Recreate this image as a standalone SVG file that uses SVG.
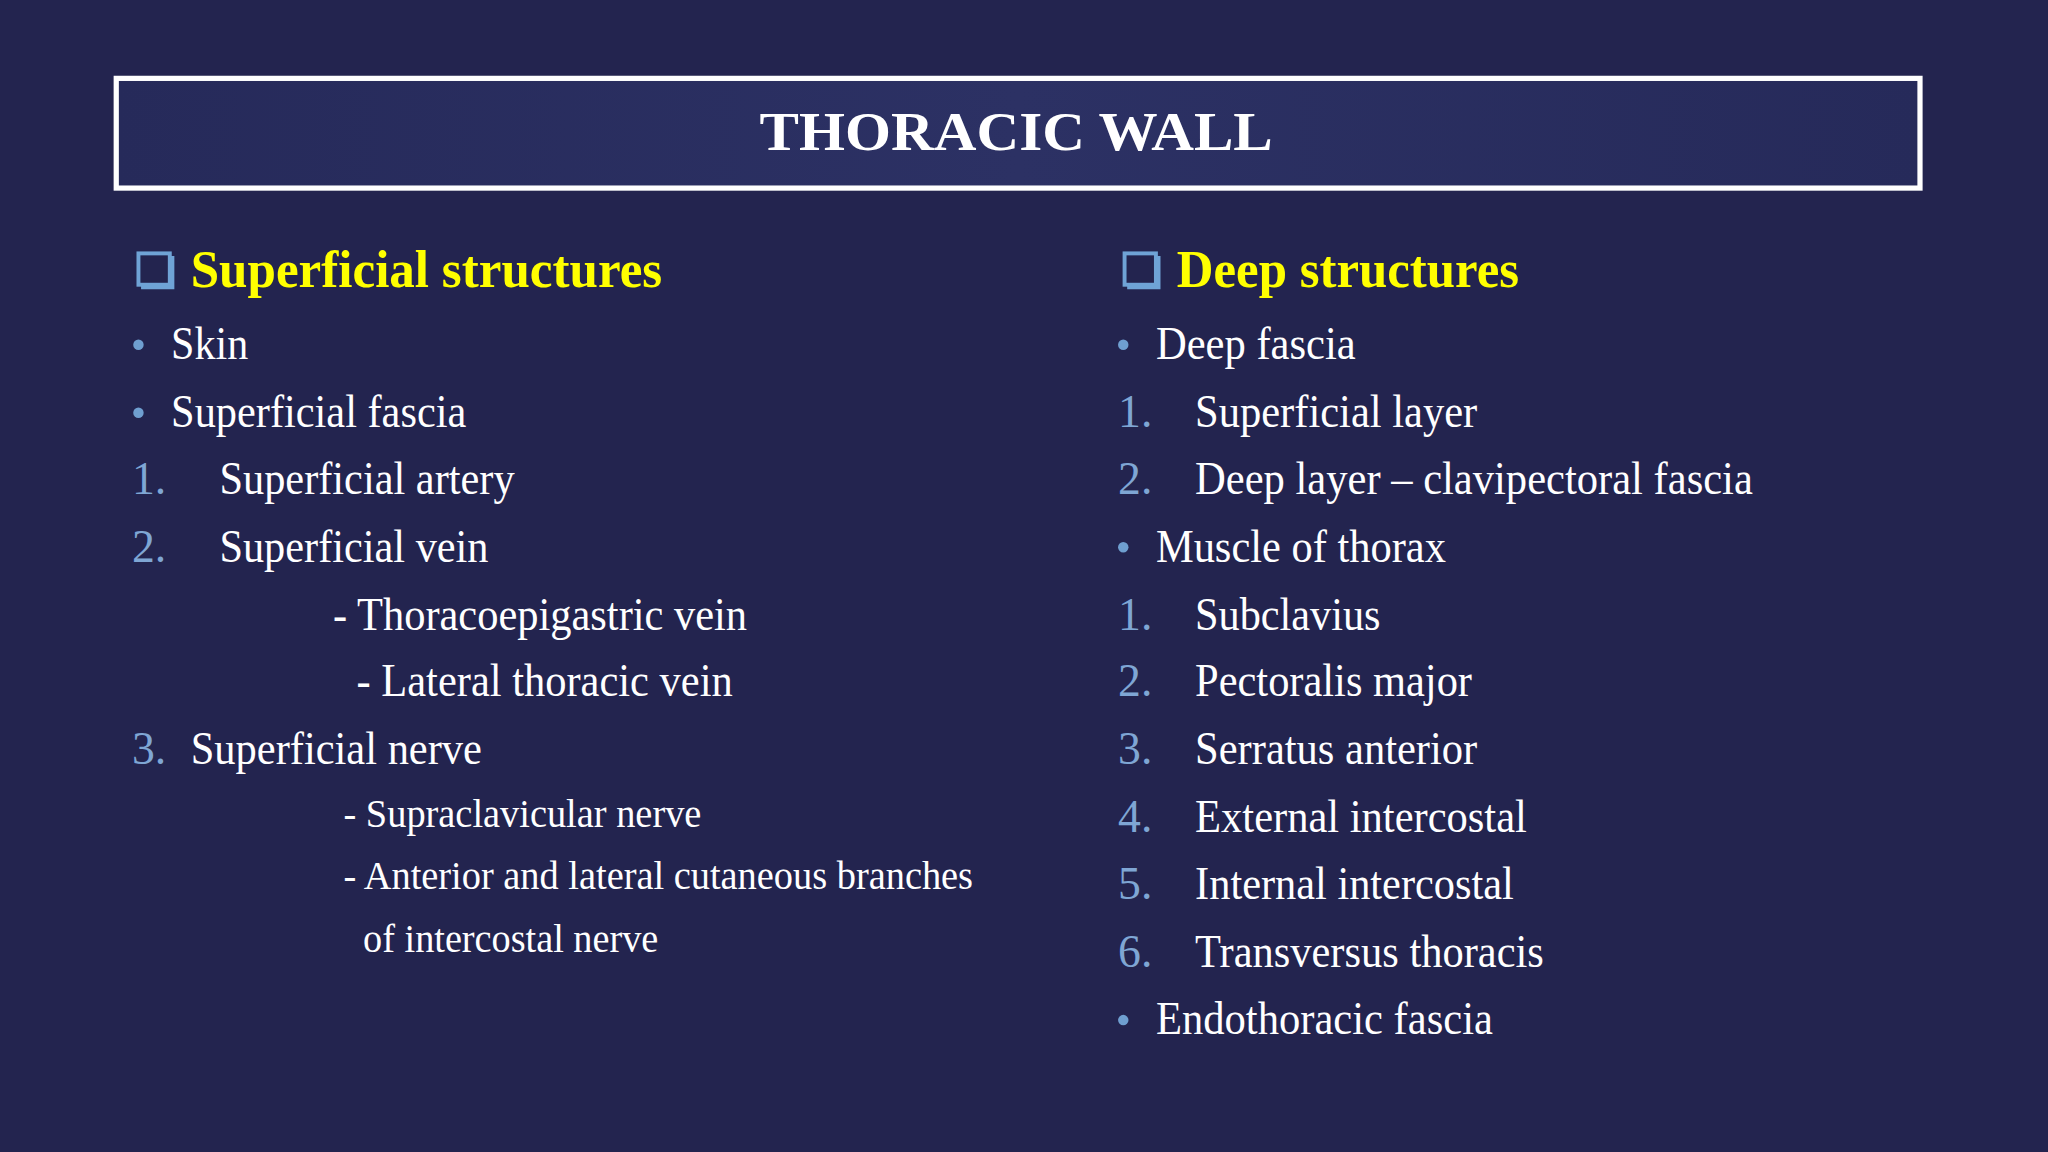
<svg xmlns="http://www.w3.org/2000/svg" width="2048" height="1152" viewBox="0 0 2048 1152">
<defs>
<linearGradient id="tb" x1="0" y1="0" x2="1" y2="0"><stop offset="0" stop-color="#262a5a"/><stop offset="0.5" stop-color="#2c3164"/><stop offset="1" stop-color="#262a5a"/></linearGradient>
</defs>
<style>
.t{font-family:"Liberation Serif","Times New Roman",serif;fill:#ffffff}
.b{font-size:35px}
.s{font-size:31px}
.n{font-family:"Liberation Serif",serif;font-size:35px;fill:#7fa6d4}
.h{font-family:"Liberation Serif",serif;font-size:40px;font-weight:bold;fill:#ffff00}
.dot{fill:#6f9fd0}
.cb{fill:none;stroke:#6fa3d6;stroke-width:3}
</style>
<rect width="2048" height="1152" fill="#23244f"/>
<g transform="scale(1.30612)">
<g id="title">
<rect x="89" y="60" width="1381" height="84" fill="url(#tb)" stroke="#ffffff" stroke-width="4"/>
<text class="t" x="778" y="115" text-anchor="middle" font-size="42" font-weight="bold" textLength="393" lengthAdjust="spacingAndGlyphs">THORACIC WALL</text>
</g>
<g id="left">
<rect class="cb" x="106" y="194" width="24" height="24"/><path d="M108 220h24v-24" stroke="#6fa3d6" stroke-width="3" fill="none"/>
<text class="h" x="146" y="220" textLength="361" lengthAdjust="spacingAndGlyphs">Superficial structures</text>
<circle class="dot" cx="106" cy="264" r="4"/>
<text class="t b" x="131" y="275" textLength="59" lengthAdjust="spacingAndGlyphs">Skin</text>
<circle class="dot" cx="106" cy="316" r="4"/>
<text class="t b" x="131" y="327" textLength="226" lengthAdjust="spacingAndGlyphs">Superficial fascia</text>
<text class="n" x="101" y="378">1.</text>
<text class="t b" x="168" y="378" textLength="226" lengthAdjust="spacingAndGlyphs">Superficial artery</text>
<text class="n" x="101" y="430">2.</text>
<text class="t b" x="168" y="430" textLength="206" lengthAdjust="spacingAndGlyphs">Superficial vein</text>
<text class="t b" x="255" y="482" textLength="317" lengthAdjust="spacingAndGlyphs">- Thoracoepigastric vein</text>
<text class="t b" x="273" y="533" textLength="288" lengthAdjust="spacingAndGlyphs">- Lateral thoracic vein</text>
<text class="n" x="101" y="585">3.</text>
<text class="t b" x="146" y="585" textLength="223" lengthAdjust="spacingAndGlyphs">Superficial nerve</text>
<text class="t s" x="263" y="633" textLength="274" lengthAdjust="spacingAndGlyphs">- Supraclavicular nerve</text>
<text class="t s" x="263" y="681" textLength="482" lengthAdjust="spacingAndGlyphs">- Anterior and lateral cutaneous branches</text>
<text class="t s" x="278" y="729" textLength="226" lengthAdjust="spacingAndGlyphs">of intercostal nerve</text>
</g>
<g id="right">
<rect class="cb" x="861" y="194" width="24" height="24"/><path d="M863 220h24v-24" stroke="#6fa3d6" stroke-width="3" fill="none"/>
<text class="h" x="901" y="220" textLength="262" lengthAdjust="spacingAndGlyphs">Deep structures</text>
<circle class="dot" cx="860" cy="264" r="4"/>
<text class="t b" x="885" y="275" textLength="153" lengthAdjust="spacingAndGlyphs">Deep fascia</text>
<text class="n" x="856" y="327">1.</text>
<text class="t b" x="915" y="327" textLength="216" lengthAdjust="spacingAndGlyphs">Superficial layer</text>
<text class="n" x="856" y="378">2.</text>
<text class="t b" x="915" y="378" textLength="427" lengthAdjust="spacingAndGlyphs">Deep layer – clavipectoral fascia</text>
<circle class="dot" cx="860" cy="419" r="4"/>
<text class="t b" x="885" y="430" textLength="222" lengthAdjust="spacingAndGlyphs">Muscle of thorax</text>
<text class="n" x="856" y="482">1.</text>
<text class="t b" x="915" y="482" textLength="142" lengthAdjust="spacingAndGlyphs">Subclavius</text>
<text class="n" x="856" y="533">2.</text>
<text class="t b" x="915" y="533" textLength="212" lengthAdjust="spacingAndGlyphs">Pectoralis major</text>
<text class="n" x="856" y="585">3.</text>
<text class="t b" x="915" y="585" textLength="216" lengthAdjust="spacingAndGlyphs">Serratus anterior</text>
<text class="n" x="856" y="637">4.</text>
<text class="t b" x="915" y="637" textLength="254" lengthAdjust="spacingAndGlyphs">External intercostal</text>
<text class="n" x="856" y="688">5.</text>
<text class="t b" x="915" y="688" textLength="244" lengthAdjust="spacingAndGlyphs">Internal intercostal</text>
<text class="n" x="856" y="740">6.</text>
<text class="t b" x="915" y="740" textLength="267" lengthAdjust="spacingAndGlyphs">Transversus thoracis</text>
<circle class="dot" cx="860" cy="781" r="4"/>
<text class="t b" x="885" y="792" textLength="258" lengthAdjust="spacingAndGlyphs">Endothoracic fascia</text>
</g>
</g>
</svg>
